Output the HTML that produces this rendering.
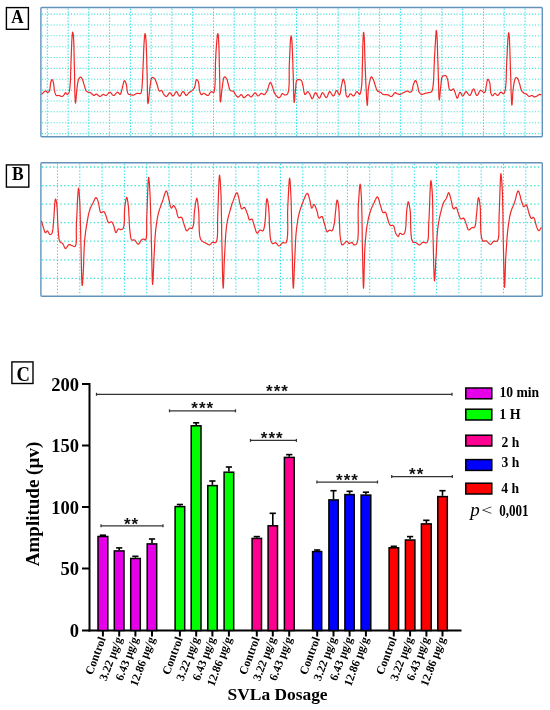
<!DOCTYPE html>
<html><head><meta charset="utf-8"><style>
html,body{margin:0;padding:0;background:#fff;width:550px;height:710px;overflow:hidden}
svg{display:block}
</style></head><body>
<svg width="550" height="710" viewBox="0 0 550 710">
<rect width="550" height="710" fill="#fff"/>
<!-- panel A -->
<rect x="6.4" y="7.6" width="22" height="21.7" fill="#fff" stroke="#000" stroke-width="1.4"/>
<text transform="translate(17.5,22.7) scale(0.92,1)" text-anchor="middle" font-size="18.5" font-weight="bold" font-family="Liberation Serif, Times New Roman, serif">A</text>
<g stroke="#45e0d2" stroke-width="1.1" stroke-dasharray="1.1 1.8"><line x1="41.9" y1="14.1" x2="541.3" y2="14.1"/><line x1="41.9" y1="25.0" x2="541.3" y2="25.0"/><line x1="41.9" y1="35.8" x2="541.3" y2="35.8"/><line x1="41.9" y1="46.7" x2="541.3" y2="46.7"/><line x1="41.9" y1="57.5" x2="541.3" y2="57.5"/><line x1="41.9" y1="68.4" x2="541.3" y2="68.4"/><line x1="41.9" y1="79.3" x2="541.3" y2="79.3"/><line x1="41.9" y1="90.1" x2="541.3" y2="90.1"/><line x1="41.9" y1="101.0" x2="541.3" y2="101.0"/><line x1="41.9" y1="111.8" x2="541.3" y2="111.8"/><line x1="41.9" y1="122.7" x2="541.3" y2="122.7"/><line x1="41.9" y1="133.6" x2="541.3" y2="133.6"/></g><g stroke="#20dfea" stroke-width="1" stroke-dasharray="1.4 1.6"><line x1="47.3" y1="8.5" x2="47.3" y2="135.8"/><line x1="68.1" y1="8.5" x2="68.1" y2="135.8"/><line x1="88.8" y1="8.5" x2="88.8" y2="135.8"/><line x1="109.6" y1="8.5" x2="109.6" y2="135.8"/><line x1="130.4" y1="8.5" x2="130.4" y2="135.8"/><line x1="151.1" y1="8.5" x2="151.1" y2="135.8"/><line x1="171.9" y1="8.5" x2="171.9" y2="135.8"/><line x1="192.7" y1="8.5" x2="192.7" y2="135.8"/><line x1="213.5" y1="8.5" x2="213.5" y2="135.8"/><line x1="234.2" y1="8.5" x2="234.2" y2="135.8"/><line x1="255.0" y1="8.5" x2="255.0" y2="135.8"/><line x1="275.8" y1="8.5" x2="275.8" y2="135.8"/><line x1="296.5" y1="8.5" x2="296.5" y2="135.8"/><line x1="317.3" y1="8.5" x2="317.3" y2="135.8"/><line x1="338.1" y1="8.5" x2="338.1" y2="135.8"/><line x1="358.9" y1="8.5" x2="358.9" y2="135.8"/><line x1="379.6" y1="8.5" x2="379.6" y2="135.8"/><line x1="400.4" y1="8.5" x2="400.4" y2="135.8"/><line x1="421.2" y1="8.5" x2="421.2" y2="135.8"/><line x1="441.9" y1="8.5" x2="441.9" y2="135.8"/><line x1="462.7" y1="8.5" x2="462.7" y2="135.8"/><line x1="483.5" y1="8.5" x2="483.5" y2="135.8"/><line x1="504.2" y1="8.5" x2="504.2" y2="135.8"/><line x1="525.0" y1="8.5" x2="525.0" y2="135.8"/></g>
<rect x="40.9" y="7.5" width="501.4" height="129.3" rx="1" fill="none" stroke="#6493ba" stroke-width="1.4"/>
<path d="M41.6,94.4 41.7,94.2 42.1,93.8 42.7,93.2 43.3,92.6 43.9,92.0 44.4,91.6 44.7,91.4 45.0,91.3 45.2,91.2 45.5,91.1 45.7,91.1 46.0,91.1 46.3,91.2 46.5,91.5 46.8,91.8 47.1,92.2 47.3,92.4 47.6,92.5 47.9,92.5 48.2,92.3 48.5,92.1 48.8,91.8 49.1,91.5 49.3,91.1 49.7,90.0 50.0,88.4 50.2,86.6 50.4,84.7 50.6,83.1 50.9,81.8 51.1,81.3 51.3,80.8 51.5,80.3 51.8,79.9 52.0,79.7 52.2,79.6 52.4,79.7 52.6,80.1 52.8,80.6 53.0,81.1 53.1,81.8 53.3,82.4 53.6,83.7 53.8,85.2 54.0,86.9 54.2,88.6 54.4,90.2 54.7,91.6 54.9,92.4 55.2,93.2 55.4,93.9 55.7,94.6 56.0,95.1 56.4,95.5 56.8,95.6 57.2,95.7 57.7,95.6 58.2,95.5 58.6,95.5 59.1,95.5 59.6,95.6 60.0,95.9 60.5,96.1 60.9,96.3 61.4,96.5 61.8,96.5 62.2,96.4 62.6,96.2 63.0,95.9 63.3,95.6 63.7,95.2 64.0,94.9 64.3,94.5 64.6,94.1 64.8,93.6 65.1,93.1 65.3,92.8 65.6,92.7 65.9,92.8 66.2,93.1 66.4,93.5 66.7,94.0 67.0,94.3 67.3,94.4 67.6,94.3 67.9,94.1 68.1,93.9 68.4,93.5 68.7,93.1 68.9,92.7 69.2,91.9 69.4,91.0 69.6,90.0 69.7,88.9 69.9,87.6 70.0,86.2 70.3,82.8 70.5,78.7 70.6,74.1 70.8,69.2 70.9,64.4 71.1,60.0 71.2,56.1 71.4,52.0 71.5,48.0 71.7,44.2 71.8,40.8 72.0,38.0 72.1,36.7 72.2,35.3 72.3,34.1 72.4,33.1 72.6,32.4 72.7,32.1 72.8,32.3 72.9,32.7 73.1,33.3 73.2,34.2 73.3,35.1 73.4,36.0 73.6,38.7 73.8,42.2 73.9,46.3 74.0,50.7 74.1,55.4 74.2,60.0 74.4,67.5 74.6,76.6 74.7,86.1 74.9,94.6 75.2,100.8 75.5,103.1 75.7,102.2 76.0,100.0 76.2,96.9 76.5,93.4 76.8,90.0 77.1,87.3 77.3,85.7 77.5,84.1 77.8,82.6 78.0,81.3 78.3,80.1 78.7,79.1 78.9,78.6 79.2,78.2 79.5,77.8 79.8,77.5 80.1,77.3 80.4,77.2 80.7,77.2 80.9,77.4 81.2,77.6 81.5,77.8 81.7,78.2 82.0,78.5 82.4,79.3 82.8,80.3 83.2,81.5 83.5,82.7 83.8,84.0 84.2,85.1 84.5,86.2 84.9,87.3 85.2,88.4 85.5,89.5 85.9,90.4 86.4,91.1 86.7,91.4 87.1,91.6 87.4,91.8 87.8,92.0 88.2,92.1 88.5,92.2 88.8,92.3 89.1,92.3 89.4,92.3 89.6,92.3 89.9,92.4 90.2,92.5 90.6,92.7 90.9,93.0 91.3,93.4 91.7,93.7 92.0,94.1 92.4,94.4 92.7,94.6 92.9,94.9 93.2,95.1 93.5,95.3 93.7,95.4 94.0,95.5 94.3,95.4 94.7,95.1 95.1,94.8 95.5,94.4 95.8,94.1 96.2,94.0 96.6,94.1 96.9,94.3 97.3,94.6 97.7,94.9 98.1,95.2 98.4,95.5 98.7,95.7 98.9,95.9 99.2,96.1 99.4,96.3 99.7,96.5 100.0,96.5 100.5,96.3 101.0,96.0 101.6,95.5 102.2,95.0 102.7,94.6 103.3,94.4 103.8,94.5 104.2,94.7 104.6,95.0 105.1,95.3 105.5,95.5 106.0,95.5 106.6,95.2 107.2,94.6 107.9,93.8 108.5,93.0 109.2,92.4 109.8,92.2 110.4,92.4 111.1,93.1 111.7,93.8 112.3,94.6 113.0,95.3 113.6,95.5 114.3,95.3 114.9,94.7 115.6,93.9 116.2,93.1 116.9,92.4 117.5,92.2 118.0,92.4 118.5,92.8 119.0,93.4 119.4,93.9 119.8,94.3 120.2,94.4 120.6,94.1 120.8,93.5 121.1,92.8 121.3,91.9 121.5,90.9 121.8,90.0 122.2,88.4 122.7,86.5 123.1,84.4 123.6,82.6 124.0,81.2 124.5,80.7 124.8,80.8 125.1,81.2 125.4,81.8 125.7,82.5 125.9,83.3 126.2,84.0 126.5,85.4 126.8,87.3 127.0,89.2 127.2,91.1 127.6,92.7 128.1,93.8 128.4,94.1 128.8,94.3 129.2,94.5 129.6,94.5 130.1,94.6 130.5,94.7 130.9,94.8 131.4,94.9 131.9,95.0 132.3,95.1 132.8,95.1 133.3,95.1 133.9,94.9 134.5,94.6 135.2,94.2 135.8,93.8 136.5,93.5 137.1,93.3 137.7,93.3 138.3,93.4 138.9,93.5 139.5,93.7 140.0,93.7 140.4,93.6 140.7,93.4 140.9,93.1 141.1,92.7 141.2,92.2 141.4,91.7 141.5,91.1 141.9,88.4 142.2,84.6 142.5,80.0 142.7,75.1 142.9,70.1 143.1,65.5 143.3,60.7 143.5,55.5 143.7,50.3 143.9,45.5 144.2,41.2 144.4,38.0 144.5,36.9 144.6,35.9 144.7,35.0 144.9,34.3 145.0,33.8 145.1,33.6 145.2,33.8 145.3,34.3 145.5,35.0 145.6,35.9 145.7,36.9 145.8,38.0 146.1,41.6 146.3,46.5 146.5,52.1 146.7,58.2 146.8,64.3 147.0,70.0 147.2,76.3 147.3,83.6 147.4,90.9 147.5,97.3 147.7,101.9 148.0,103.6 148.3,102.6 148.6,99.9 149.0,96.2 149.4,92.0 149.8,88.1 150.2,85.1 150.5,83.5 150.7,81.9 150.9,80.3 151.2,79.0 151.6,78.0 152.1,77.5 152.5,77.4 152.9,77.5 153.3,77.6 153.7,77.9 154.1,78.2 154.5,78.5 155.0,79.1 155.3,79.8 155.7,80.7 156.0,81.6 156.3,82.6 156.7,83.5 157.1,84.8 157.6,86.3 158.0,87.9 158.4,89.4 158.9,90.5 159.5,91.1 159.8,91.1 160.2,91.0 160.6,90.8 160.9,90.6 161.3,90.5 161.6,90.5 162.0,90.8 162.4,91.4 162.7,92.2 163.0,93.0 163.4,93.8 163.8,94.4 164.2,94.9 164.6,95.4 165.1,95.8 165.6,96.2 166.0,96.4 166.5,96.5 167.0,96.2 167.6,95.5 168.1,94.6 168.7,93.7 169.2,93.0 169.8,92.7 170.3,92.9 170.9,93.6 171.5,94.4 172.0,95.2 172.6,95.8 173.1,96.0 173.7,95.6 174.2,94.8 174.8,93.8 175.3,92.7 175.9,91.9 176.4,91.6 176.9,91.9 177.5,92.8 178.0,93.9 178.5,95.0 179.1,95.9 179.6,96.2 180.2,95.8 180.8,95.0 181.3,93.8 181.9,92.7 182.5,91.8 183.1,91.4 183.6,91.7 184.1,92.4 184.7,93.4 185.2,94.4 185.7,95.2 186.2,95.5 186.6,95.4 187.1,95.0 187.5,94.4 188.0,93.8 188.4,93.2 188.9,92.7 189.4,92.3 190.0,91.9 190.6,91.6 191.2,91.3 191.7,90.9 192.2,90.5 192.6,90.1 193.0,89.7 193.4,89.3 193.7,88.9 194.1,88.4 194.4,87.8 194.8,86.5 195.2,84.9 195.5,83.1 195.8,81.4 196.1,80.2 196.5,79.6 196.8,79.6 197.1,79.8 197.4,80.1 197.7,80.4 197.9,80.8 198.2,81.3 198.6,82.6 198.9,84.3 199.1,86.3 199.2,88.3 199.5,90.1 199.8,91.6 200.0,92.3 200.3,93.0 200.6,93.6 200.8,94.1 201.2,94.5 201.5,94.7 201.8,94.7 202.2,94.4 202.5,94.1 202.9,93.7 203.2,93.4 203.6,93.3 204.0,93.3 204.3,93.5 204.7,93.7 205.1,93.9 205.4,94.2 205.8,94.4 206.2,94.6 206.5,94.9 206.9,95.1 207.3,95.4 207.7,95.5 208.0,95.5 208.4,95.3 208.8,94.8 209.1,94.3 209.5,93.7 209.8,93.1 210.2,92.7 210.5,92.4 210.7,92.2 211.0,92.0 211.3,91.8 211.5,91.6 211.8,91.6 212.1,91.7 212.4,91.9 212.7,92.2 213.0,92.5 213.3,92.7 213.5,92.7 213.8,92.4 214.1,91.7 214.3,90.8 214.5,89.8 214.6,88.6 214.8,87.3 215.1,83.9 215.2,79.7 215.3,74.8 215.4,69.7 215.4,64.6 215.6,60.0 215.8,56.0 216.0,51.9 216.3,47.8 216.6,44.0 216.8,40.7 217.1,38.0 217.2,37.0 217.3,36.0 217.4,35.0 217.6,34.3 217.7,33.8 217.8,33.6 217.9,33.8 218.0,34.3 218.2,35.0 218.3,35.9 218.4,36.9 218.5,38.0 218.7,41.6 218.9,46.5 219.1,52.2 219.2,58.2 219.3,64.3 219.5,70.0 219.6,76.1 219.8,83.0 219.9,90.0 220.0,96.1 220.2,100.4 220.5,102.0 220.7,101.2 221.0,99.2 221.2,96.3 221.5,93.1 221.9,89.9 222.2,87.3 222.5,85.2 222.8,83.0 223.1,80.8 223.4,79.0 223.9,77.6 224.4,76.9 224.7,76.9 225.1,77.0 225.5,77.3 225.8,77.7 226.2,78.1 226.5,78.5 226.9,79.2 227.2,80.0 227.4,81.0 227.7,82.0 227.9,83.0 228.2,84.0 228.5,85.1 228.8,86.4 229.1,87.6 229.4,88.8 229.9,89.8 230.4,90.5 230.9,90.8 231.4,90.9 232.0,91.0 232.6,91.1 233.1,91.2 233.6,91.4 234.0,91.8 234.3,92.3 234.5,92.8 234.7,93.4 235.0,93.9 235.3,94.4 235.7,94.9 236.1,95.5 236.6,96.1 237.0,96.6 237.5,96.9 238.0,97.1 238.5,96.9 239.1,96.5 239.7,95.9 240.2,95.3 240.8,94.8 241.3,94.7 241.8,94.9 242.2,95.5 242.6,96.1 243.1,96.8 243.5,97.4 244.0,97.6 244.6,97.4 245.3,96.9 246.0,96.2 246.7,95.5 247.4,94.9 248.1,94.7 248.6,94.9 249.1,95.3 249.6,95.8 250.1,96.4 250.6,96.8 251.1,96.9 251.8,96.6 252.4,95.8 253.1,94.9 253.8,93.9 254.5,93.2 255.1,92.9 255.6,93.1 256.1,93.7 256.6,94.4 257.0,95.2 257.5,95.7 258.0,96.0 258.6,95.8 259.1,95.4 259.7,94.7 260.3,94.1 260.9,93.5 261.5,93.3 262.0,93.4 262.4,93.7 262.9,94.0 263.3,94.4 263.8,94.7 264.2,94.7 264.7,94.5 265.2,94.0 265.6,93.4 266.0,92.7 266.5,91.9 266.9,91.1 267.5,89.7 268.1,87.9 268.7,85.9 269.3,84.2 269.9,82.9 270.4,82.4 270.8,82.6 271.1,83.2 271.4,84.0 271.8,84.9 272.1,85.8 272.4,86.7 272.7,87.7 273.0,88.7 273.3,89.8 273.6,90.8 273.9,91.8 274.3,92.7 274.7,93.3 275.0,94.0 275.5,94.5 275.9,95.1 276.3,95.5 276.7,96.0 277.0,96.3 277.3,96.7 277.5,97.0 277.8,97.3 278.1,97.5 278.4,97.6 278.7,97.6 278.9,97.6 279.2,97.5 279.5,97.4 279.7,97.3 280.0,97.1 280.4,96.6 280.8,96.0 281.1,95.2 281.5,94.5 281.9,93.9 282.3,93.6 282.7,93.6 283.1,93.9 283.6,94.2 284.1,94.6 284.5,94.9 285.0,95.0 285.5,95.0 285.9,94.9 286.4,94.7 286.9,94.5 287.3,94.1 287.7,93.6 288.6,90.9 289.0,86.7 289.2,81.5 289.2,75.7 289.2,70.1 289.3,65.0 289.5,60.5 289.7,55.8 289.9,51.1 290.1,46.7 290.3,42.9 290.5,40.0 290.6,39.0 290.7,38.1 290.8,37.2 290.9,36.5 291.0,36.1 291.1,35.9 291.2,36.1 291.3,36.5 291.5,37.2 291.6,38.0 291.7,39.0 291.8,40.0 292.1,43.9 292.3,49.3 292.6,55.6 292.8,62.4 293.0,69.0 293.2,75.0 293.4,80.4 293.5,86.4 293.6,92.4 293.8,97.5 294.0,101.1 294.2,102.5 294.4,101.8 294.6,100.1 294.8,97.7 295.0,95.0 295.3,92.3 295.5,90.0 295.7,88.2 295.8,86.2 295.9,84.3 296.1,82.6 296.4,81.1 296.9,80.2 297.2,79.9 297.5,79.8 297.9,79.7 298.3,79.6 298.6,79.6 299.0,79.6 299.4,79.6 299.8,79.7 300.2,79.8 300.6,80.0 301.0,80.2 301.3,80.5 301.7,81.1 302.0,81.9 302.3,82.9 302.5,83.9 302.7,85.0 303.0,86.0 303.3,87.5 303.6,89.3 303.8,91.1 304.2,92.7 304.5,93.9 305.0,94.5 305.4,94.4 305.9,93.8 306.4,93.1 306.9,92.4 307.4,91.8 307.8,91.6 308.1,91.7 308.4,91.9 308.7,92.2 308.9,92.6 309.2,93.1 309.5,93.5 309.9,94.3 310.4,95.4 310.8,96.6 311.3,97.6 311.7,98.4 312.2,98.7 312.7,98.3 313.3,97.2 313.8,95.7 314.3,94.3 314.9,93.2 315.5,92.7 316.1,93.1 316.7,94.1 317.4,95.4 318.1,96.8 318.7,97.8 319.3,98.2 319.9,97.8 320.4,96.8 320.9,95.5 321.4,94.2 321.9,93.1 322.5,92.7 323.1,93.0 323.8,94.0 324.5,95.2 325.1,96.4 325.8,97.3 326.4,97.6 327.0,97.1 327.5,96.0 328.0,94.6 328.5,93.2 329.0,92.1 329.6,91.6 330.2,91.9 330.8,92.7 331.5,93.8 332.2,94.9 332.8,95.7 333.4,96.0 334.0,95.6 334.6,94.5 335.1,93.2 335.6,91.9 336.2,90.9 336.7,90.5 337.2,90.8 337.7,91.7 338.1,92.7 338.6,93.8 339.0,94.6 339.4,94.9 339.9,94.3 340.3,92.9 340.6,91.0 340.9,88.9 341.3,86.8 341.6,85.1 341.9,83.9 342.2,82.5 342.4,81.3 342.7,80.2 343.0,79.4 343.3,79.1 343.6,79.3 343.8,79.9 344.1,80.8 344.4,81.8 344.7,82.9 344.9,84.0 345.2,85.8 345.4,88.1 345.6,90.5 345.8,92.8 346.1,94.7 346.5,96.0 346.7,96.3 346.9,96.6 347.2,96.8 347.4,97.0 347.7,97.1 347.9,97.1 348.3,96.8 348.7,96.2 349.1,95.5 349.5,94.7 349.9,94.1 350.4,93.8 350.9,93.9 351.4,94.3 352.0,94.9 352.5,95.5 353.1,95.9 353.6,96.0 354.2,95.6 354.7,94.8 355.3,93.8 355.8,92.7 356.4,91.9 356.9,91.6 357.4,91.8 357.8,92.3 358.3,93.0 358.8,93.7 359.2,94.2 359.6,94.4 360.0,94.1 360.3,93.3 360.6,92.3 360.9,91.1 361.1,89.8 361.3,88.4 361.7,85.5 361.9,82.0 362.1,78.0 362.2,73.8 362.3,69.6 362.4,65.5 362.5,60.8 362.7,55.7 362.7,50.6 362.8,45.7 363.0,41.4 363.1,38.0 363.2,36.7 363.3,35.4 363.3,34.2 363.4,33.3 363.5,32.6 363.6,32.4 363.7,32.6 363.8,33.1 363.9,33.9 364.0,34.8 364.1,35.9 364.2,37.0 364.4,40.7 364.6,45.7 364.7,51.5 364.9,57.8 365.1,64.1 365.3,70.0 365.6,76.6 365.9,84.3 366.3,92.0 366.6,98.7 367.0,103.5 367.3,105.3 367.5,104.3 367.6,101.8 367.8,98.2 368.0,94.3 368.2,90.4 368.6,87.3 369.0,85.2 369.4,82.9 369.9,80.7 370.3,78.8 370.9,77.5 371.4,76.9 371.7,77.0 372.0,77.3 372.4,77.8 372.7,78.4 373.0,79.0 373.3,79.6 373.7,80.5 374.1,81.6 374.4,82.8 374.8,84.0 375.1,85.1 375.5,86.2 375.8,87.1 376.1,88.0 376.4,88.9 376.8,89.8 377.1,90.5 377.6,91.1 378.0,91.4 378.5,91.6 379.0,91.7 379.4,91.8 379.9,92.0 380.4,92.2 380.9,92.5 381.3,92.9 381.7,93.4 382.2,93.8 382.6,94.1 383.1,94.4 383.5,94.5 384.0,94.6 384.4,94.7 384.9,94.7 385.4,94.7 385.8,94.7 386.2,94.7 386.5,94.7 386.9,94.7 387.3,94.8 387.6,94.8 388.0,94.9 388.5,95.1 389.1,95.5 389.6,95.9 390.2,96.2 390.8,96.5 391.3,96.5 392.0,96.2 392.6,95.5 393.3,94.6 393.9,93.7 394.5,93.0 395.1,92.7 395.5,92.7 395.8,92.9 396.2,93.1 396.6,93.4 396.9,93.6 397.3,93.8 397.7,94.0 398.2,94.1 398.6,94.3 399.1,94.4 399.5,94.4 400.0,94.4 400.5,94.3 401.1,94.0 401.6,93.7 402.2,93.3 402.7,93.0 403.3,92.7 404.0,92.4 404.7,92.0 405.5,91.7 406.3,91.4 407.0,91.2 407.6,91.1 408.0,91.2 408.4,91.4 408.8,91.7 409.1,91.9 409.5,92.1 409.8,92.2 410.1,92.2 410.4,92.2 410.7,92.1 411.0,92.0 411.2,91.8 411.5,91.6 412.0,90.8 412.3,89.6 412.6,88.1 412.9,86.6 413.2,85.2 413.6,84.0 413.9,83.2 414.2,82.5 414.5,81.7 414.9,81.1 415.2,80.7 415.5,80.5 415.8,80.7 416.2,81.3 416.5,82.2 416.9,83.1 417.2,84.2 417.5,85.1 417.8,86.2 418.0,87.5 418.2,88.8 418.4,90.1 418.7,91.3 419.1,92.2 419.5,92.7 419.9,93.2 420.3,93.6 420.8,94.0 421.3,94.3 421.8,94.4 422.3,94.4 422.9,94.3 423.4,94.0 424.0,93.8 424.5,93.5 425.1,93.3 425.6,93.2 426.2,93.1 426.8,93.0 427.3,92.9 427.9,92.8 428.4,92.7 429.0,92.6 429.5,92.5 430.1,92.3 430.7,92.2 431.2,91.9 431.6,91.6 432.0,91.1 432.2,90.6 432.4,89.9 432.6,89.1 432.7,88.3 432.9,87.3 433.3,84.1 433.6,79.9 433.8,75.0 434.0,69.8 434.2,64.7 434.4,60.0 434.6,55.7 434.9,51.3 435.1,46.8 435.4,42.7 435.6,39.0 435.8,36.0 435.9,34.7 436.0,33.5 436.0,32.3 436.1,31.4 436.2,30.7 436.3,30.5 436.4,30.7 436.5,31.2 436.6,31.9 436.7,32.9 436.8,33.9 436.9,35.0 437.1,38.4 437.3,43.0 437.5,48.2 437.6,53.9 437.8,59.6 438.0,65.0 438.2,71.5 438.4,79.0 438.6,86.6 438.8,93.2 439.0,98.0 439.3,99.8 439.5,99.0 439.8,96.9 440.0,94.0 440.3,90.8 440.6,87.7 440.9,85.1 441.1,83.4 441.2,81.7 441.4,80.0 441.6,78.5 442.0,77.3 442.5,76.4 443.0,76.0 443.5,75.8 444.1,75.6 444.8,75.6 445.3,75.6 445.8,75.8 446.2,76.1 446.5,76.5 446.8,77.1 447.0,77.7 447.3,78.4 447.5,79.1 447.9,80.6 448.2,82.5 448.4,84.6 448.7,86.6 449.1,88.4 449.6,89.5 449.9,89.8 450.1,90.1 450.4,90.3 450.7,90.4 451.0,90.5 451.3,90.5 451.6,90.4 451.9,90.0 452.3,89.6 452.6,89.3 452.9,89.0 453.2,88.9 453.6,89.1 453.9,89.6 454.2,90.3 454.5,91.1 454.8,91.9 455.1,92.7 455.5,93.7 455.8,94.9 456.2,96.1 456.5,97.1 456.9,97.9 457.3,98.2 457.7,97.8 458.2,96.7 458.6,95.2 459.0,93.8 459.5,92.7 460.0,92.2 460.4,92.5 460.9,93.1 461.3,94.1 461.8,95.0 462.2,95.7 462.7,96.0 463.2,95.7 463.8,94.9 464.3,93.8 464.8,92.8 465.4,92.0 466.0,91.6 466.6,91.9 467.2,92.6 467.9,93.6 468.6,94.5 469.2,95.3 469.8,95.5 470.5,94.9 471.1,93.7 471.8,92.1 472.4,90.6 473.0,89.4 473.6,88.9 474.2,89.4 474.7,90.6 475.2,92.2 475.8,93.8 476.3,95.0 476.9,95.5 477.5,95.2 478.1,94.3 478.7,93.0 479.3,91.8 480.0,90.8 480.7,90.3 481.3,90.4 482.0,90.9 482.7,91.6 483.4,92.2 484.0,92.6 484.5,92.7 485.0,92.2 485.3,91.3 485.6,90.1 485.8,88.8 486.0,87.4 486.2,86.2 486.5,84.9 486.7,83.5 486.9,82.0 487.2,80.7 487.5,79.8 487.8,79.4 488.1,79.5 488.4,79.7 488.7,80.1 489.0,80.6 489.2,81.2 489.5,81.8 489.9,83.4 490.1,85.5 490.3,87.9 490.5,90.2 490.7,92.3 491.1,93.8 491.3,94.3 491.6,94.8 491.8,95.2 492.1,95.5 492.4,95.7 492.7,95.8 493.0,95.6 493.4,95.2 493.7,94.6 494.1,94.0 494.5,93.5 494.9,93.3 495.3,93.4 495.8,93.9 496.2,94.4 496.7,94.9 497.1,95.3 497.6,95.5 498.1,95.2 498.7,94.7 499.2,93.9 499.8,93.1 500.3,92.5 500.9,92.2 501.4,92.3 501.8,92.6 502.3,93.0 502.8,93.5 503.2,93.8 503.6,93.8 504.0,93.5 504.3,93.0 504.6,92.3 504.8,91.5 505.1,90.5 505.3,89.5 505.7,86.7 506.0,83.0 506.2,78.9 506.3,74.4 506.4,69.8 506.6,65.5 506.8,60.6 507.1,55.3 507.3,49.8 507.6,44.7 507.8,40.3 508.1,37.0 508.2,36.0 508.3,35.0 508.4,34.1 508.5,33.4 508.6,32.9 508.7,32.7 508.8,32.9 508.9,33.3 509.0,34.1 509.1,34.9 509.2,35.9 509.3,37.0 509.5,40.7 509.7,45.7 509.9,51.5 510.1,57.8 510.3,64.1 510.5,70.0 510.7,76.6 510.9,84.3 511.1,91.9 511.4,98.6 511.6,103.4 511.9,105.2 512.1,104.1 512.3,101.2 512.6,97.2 512.8,92.8 513.2,88.7 513.6,85.5 513.9,83.8 514.2,82.1 514.6,80.6 515.0,79.2 515.4,78.2 515.9,77.7 516.2,77.6 516.5,77.7 516.8,77.8 517.1,78.1 517.4,78.3 517.7,78.6 518.1,79.2 518.4,79.9 518.7,80.8 518.9,81.7 519.2,82.7 519.5,83.6 519.9,84.8 520.2,86.1 520.5,87.4 520.9,88.8 521.3,89.9 521.8,90.9 522.1,91.4 522.5,91.9 522.9,92.3 523.3,92.6 523.7,92.9 524.1,93.2 524.5,93.4 524.8,93.5 525.2,93.7 525.6,93.8 526.0,93.9 526.4,94.1 526.8,94.4 527.3,94.9 527.7,95.4 528.2,95.8 528.6,96.2 529.1,96.4 529.5,96.4 530.0,96.2 530.5,96.0 530.9,95.7 531.4,95.5 531.8,95.5 532.2,95.6 532.6,95.8 533.0,96.1 533.3,96.4 533.7,96.7 534.1,96.8 534.5,96.8 534.9,96.8 535.2,96.8 535.6,96.7 536.0,96.5 536.4,96.4 536.9,96.1 537.4,95.7 538.0,95.3 538.5,94.9 539.0,94.6 539.5,94.4 539.9,94.4 540.3,94.5 540.7,94.7 541.1,94.8 541.3,94.9 541.4,95.0" fill="none" stroke="#f02828" stroke-width="1.2" stroke-linejoin="round"/>
<!-- panel B -->
<rect x="6.4" y="164.9" width="22.4" height="22.2" fill="#fff" stroke="#000" stroke-width="1.4"/>
<text transform="translate(17.8,180.3) scale(0.92,1)" text-anchor="middle" font-size="19" font-weight="bold" font-family="Liberation Serif, Times New Roman, serif">B</text>
<g stroke="#45e0d2" stroke-width="1.3" stroke-dasharray="1.5 2.2"><line x1="41.9" y1="167.0" x2="541.3" y2="167.0"/><line x1="41.9" y1="185.6" x2="541.3" y2="185.6"/><line x1="41.9" y1="204.1" x2="541.3" y2="204.1"/><line x1="41.9" y1="222.7" x2="541.3" y2="222.7"/><line x1="41.9" y1="241.2" x2="541.3" y2="241.2"/><line x1="41.9" y1="259.8" x2="541.3" y2="259.8"/><line x1="41.9" y1="278.3" x2="541.3" y2="278.3"/></g><g stroke="#20dfea" stroke-width="1" stroke-dasharray="1.4 1.8"><line x1="57.5" y1="163.8" x2="57.5" y2="295.3"/><line x1="79.8" y1="163.8" x2="79.8" y2="295.3"/><line x1="102.1" y1="163.8" x2="102.1" y2="295.3"/><line x1="124.4" y1="163.8" x2="124.4" y2="295.3"/><line x1="146.7" y1="163.8" x2="146.7" y2="295.3"/><line x1="169.0" y1="163.8" x2="169.0" y2="295.3"/><line x1="191.3" y1="163.8" x2="191.3" y2="295.3"/><line x1="213.6" y1="163.8" x2="213.6" y2="295.3"/><line x1="235.9" y1="163.8" x2="235.9" y2="295.3"/><line x1="258.2" y1="163.8" x2="258.2" y2="295.3"/><line x1="280.5" y1="163.8" x2="280.5" y2="295.3"/><line x1="302.8" y1="163.8" x2="302.8" y2="295.3"/><line x1="325.1" y1="163.8" x2="325.1" y2="295.3"/><line x1="347.4" y1="163.8" x2="347.4" y2="295.3"/><line x1="369.7" y1="163.8" x2="369.7" y2="295.3"/><line x1="392.0" y1="163.8" x2="392.0" y2="295.3"/><line x1="414.3" y1="163.8" x2="414.3" y2="295.3"/><line x1="436.6" y1="163.8" x2="436.6" y2="295.3"/><line x1="458.9" y1="163.8" x2="458.9" y2="295.3"/><line x1="481.2" y1="163.8" x2="481.2" y2="295.3"/><line x1="503.5" y1="163.8" x2="503.5" y2="295.3"/><line x1="525.8" y1="163.8" x2="525.8" y2="295.3"/></g>
<rect x="40.9" y="162.8" width="501.4" height="133.5" rx="1" fill="none" stroke="#6493ba" stroke-width="1.4"/>
<path d="M41.5,220.9 41.6,221.3 41.9,222.3 42.3,223.8 42.7,225.4 43.2,226.9 43.6,228.2 43.9,229.1 44.2,230.1 44.5,231.0 44.8,231.8 45.1,232.4 45.5,232.7 45.8,232.6 46.1,232.3 46.4,231.8 46.7,231.4 47.0,231.0 47.3,230.9 47.7,231.2 48.2,231.8 48.6,232.6 49.1,233.5 49.5,234.2 50.0,234.5 50.3,234.5 50.6,234.5 50.9,234.4 51.2,234.2 51.5,233.9 51.8,233.6 52.3,232.4 52.7,230.6 53.0,228.4 53.2,225.9 53.4,223.4 53.6,220.9 53.9,217.1 54.2,212.4 54.5,207.6 54.8,203.3 55.1,200.2 55.5,199.0 55.7,199.2 55.9,199.7 56.1,200.5 56.3,201.4 56.5,202.5 56.7,203.6 57.0,206.9 57.3,211.2 57.5,216.1 57.7,221.2 57.9,226.0 58.2,230.0 58.4,232.4 58.6,234.7 58.8,236.9 59.0,238.9 59.4,240.5 60.0,241.8 60.4,242.3 60.8,242.6 61.3,242.8 61.8,243.0 62.3,243.2 62.7,243.6 63.2,244.4 63.7,245.4 64.1,246.4 64.5,247.4 65.0,248.2 65.5,248.5 66.0,248.3 66.6,247.6 67.2,246.7 67.9,245.7 68.5,244.9 69.1,244.5 69.5,244.5 70.0,244.6 70.4,244.8 70.9,245.1 71.3,245.3 71.8,245.5 72.3,245.7 72.9,246.0 73.5,246.3 74.1,246.5 74.6,246.6 75.1,246.4 75.9,244.8 76.3,241.9 76.4,238.0 76.3,233.5 76.3,228.9 76.4,224.5 76.7,218.1 77.1,210.4 77.4,202.4 77.8,195.3 78.2,190.2 78.5,188.2 78.7,188.7 78.9,189.9 79.1,191.8 79.3,194.1 79.4,196.5 79.6,199.0 79.9,204.6 80.1,211.4 80.3,219.0 80.5,227.1 80.7,235.1 80.9,242.7 81.1,250.8 81.3,260.2 81.5,269.5 81.7,277.6 81.9,283.3 82.2,285.5 82.4,284.9 82.6,283.2 82.7,280.7 82.9,277.8 83.1,274.7 83.3,271.8 83.5,267.5 83.7,262.6 83.8,257.4 84.0,252.2 84.2,247.2 84.5,242.7 84.7,239.7 85.0,236.9 85.3,234.3 85.6,231.7 86.0,229.1 86.4,226.4 86.9,223.4 87.4,220.3 88.0,217.1 88.6,214.1 89.3,211.3 90.0,209.0 90.4,207.9 90.9,206.9 91.3,206.1 91.8,205.3 92.2,204.5 92.7,203.6 93.2,202.5 93.8,201.2 94.4,199.9 94.9,198.7 95.5,197.9 96.0,197.6 96.4,197.8 96.8,198.3 97.2,199.0 97.5,199.9 97.9,200.9 98.2,201.8 98.7,203.5 99.0,205.7 99.4,208.0 99.8,210.2 100.3,211.8 100.9,212.7 101.3,212.7 101.8,212.5 102.3,212.2 102.7,211.8 103.2,211.5 103.6,211.5 104.0,211.7 104.3,212.1 104.6,212.6 104.9,213.2 105.2,213.8 105.5,214.5 106.0,215.8 106.5,217.4 107.0,219.1 107.5,220.7 108.0,222.0 108.7,222.7 109.1,222.7 109.6,222.6 110.1,222.3 110.6,222.0 111.1,221.8 111.5,221.8 111.9,222.1 112.3,222.6 112.7,223.2 113.0,224.0 113.3,224.7 113.6,225.5 114.0,226.7 114.4,228.2 114.8,229.8 115.2,231.2 115.6,232.3 116.0,232.7 116.3,232.5 116.7,231.9 117.0,231.0 117.4,230.2 117.8,229.4 118.2,229.0 118.6,228.9 119.0,229.0 119.5,229.2 120.0,229.4 120.5,229.6 120.9,229.6 121.3,229.5 121.8,229.4 122.2,229.2 122.6,229.0 123.0,228.6 123.3,228.2 123.9,226.2 124.3,223.1 124.4,219.3 124.4,215.3 124.5,211.5 124.7,208.2 125.0,205.9 125.3,203.5 125.7,201.2 126.0,199.2 126.4,197.8 126.7,197.3 127.0,197.6 127.2,198.5 127.5,199.7 127.7,201.2 128.0,202.9 128.2,204.5 128.6,208.2 128.8,212.9 129.1,218.1 129.3,223.2 129.6,228.0 130.0,231.8 130.2,233.6 130.4,235.3 130.6,236.9 130.9,238.2 131.3,239.3 131.8,240.0 132.2,240.2 132.6,240.2 133.1,240.1 133.6,239.9 134.0,239.9 134.5,240.0 135.1,240.5 135.8,241.4 136.4,242.3 137.1,243.3 137.7,243.9 138.3,244.2 138.9,243.9 139.4,243.3 139.9,242.4 140.4,241.5 140.9,240.6 141.4,240.0 141.7,239.7 142.0,239.5 142.3,239.3 142.6,239.2 142.9,239.0 143.2,239.0 143.6,239.1 144.0,239.3 144.4,239.6 144.8,239.9 145.2,240.1 145.5,240.0 146.2,238.4 146.6,235.1 146.7,230.7 146.7,225.6 146.7,220.4 146.8,215.5 147.1,208.7 147.4,200.6 147.7,192.2 148.0,184.7 148.3,179.3 148.6,177.3 148.8,177.9 149.0,179.7 149.3,182.2 149.5,185.2 149.7,188.5 149.9,191.8 150.2,198.5 150.5,206.7 150.7,215.6 151.0,225.0 151.2,234.1 151.4,242.7 151.6,250.9 151.8,260.0 152.0,269.1 152.2,276.9 152.4,282.4 152.6,284.5 152.8,283.0 153.1,279.1 153.3,273.6 153.6,267.3 153.8,261.0 154.1,255.5 154.4,250.8 154.6,246.0 154.9,241.3 155.1,236.7 155.5,232.3 155.9,228.2 156.3,225.3 156.6,222.6 157.1,220.0 157.5,217.5 158.0,215.1 158.6,212.7 159.1,210.8 159.7,208.9 160.4,207.1 161.0,205.3 161.7,203.6 162.3,201.8 163.0,199.7 163.7,197.3 164.4,195.0 165.1,192.9 165.7,191.4 166.3,190.9 166.7,191.3 167.1,192.2 167.5,193.6 167.9,195.1 168.2,196.7 168.6,198.2 169.0,200.0 169.5,202.1 169.9,204.3 170.4,206.2 170.9,207.6 171.4,208.2 171.7,208.0 172.1,207.6 172.4,206.9 172.8,206.2 173.1,205.7 173.5,205.5 173.9,205.7 174.3,206.1 174.7,206.7 175.1,207.4 175.5,208.2 175.9,209.0 176.4,210.3 176.8,212.0 177.1,213.8 177.5,215.4 178.0,216.8 178.6,217.6 179.0,217.7 179.5,217.6 180.0,217.5 180.5,217.3 181.0,217.2 181.4,217.3 182.0,218.0 182.5,219.0 182.9,220.3 183.3,221.8 183.7,223.2 184.1,224.5 184.5,225.7 185.0,227.1 185.4,228.4 185.8,229.6 186.3,230.5 186.8,230.9 187.2,230.8 187.6,230.4 188.1,229.8 188.5,229.1 189.0,228.6 189.5,228.2 190.0,228.1 190.4,228.2 190.9,228.3 191.4,228.4 191.9,228.4 192.3,228.2 193.1,226.6 193.6,223.9 193.9,220.5 194.1,216.7 194.3,213.1 194.6,210.0 195.0,207.6 195.3,205.0 195.7,202.5 196.1,200.3 196.5,198.8 196.8,198.2 197.1,198.7 197.4,200.2 197.8,202.3 198.0,204.8 198.3,207.5 198.6,210.0 198.9,214.4 199.0,219.9 199.1,225.6 199.3,231.2 199.7,235.8 200.5,239.0 200.9,239.7 201.3,240.3 201.7,240.7 202.2,241.1 202.7,241.4 203.2,241.8 203.8,242.2 204.4,242.5 205.0,242.8 205.6,243.1 206.2,243.3 206.8,243.6 207.3,243.9 207.7,244.2 208.2,244.5 208.6,244.7 209.1,244.9 209.5,244.9 210.0,244.7 210.4,244.3 210.9,243.8 211.3,243.2 211.8,242.7 212.3,242.4 212.9,242.3 213.5,242.4 214.1,242.6 214.8,242.7 215.4,242.7 215.9,242.4 216.9,240.3 217.4,236.6 217.6,231.8 217.6,226.3 217.6,220.8 217.7,215.5 218.0,208.3 218.3,199.7 218.6,190.8 218.9,182.9 219.2,177.3 219.5,175.1 219.7,175.7 219.9,177.5 220.2,180.1 220.4,183.2 220.6,186.6 220.8,190.0 221.1,197.0 221.3,205.3 221.4,214.6 221.6,224.2 221.7,233.8 221.9,242.7 222.1,251.5 222.3,261.5 222.5,271.3 222.7,279.9 223.0,285.9 223.2,288.2 223.4,286.6 223.6,282.5 223.8,276.7 224.0,270.0 224.2,263.2 224.5,257.3 224.8,251.7 225.1,246.0 225.4,240.2 225.7,234.5 226.2,229.3 226.8,224.5 227.3,221.5 227.9,218.7 228.5,216.1 229.2,213.6 229.9,211.3 230.5,209.0 231.0,207.3 231.5,205.8 231.9,204.3 232.4,202.8 233.0,201.4 233.5,200.0 234.0,198.6 234.6,196.9 235.2,195.3 235.8,194.0 236.4,193.0 236.9,192.7 237.5,193.3 238.0,194.9 238.6,197.1 239.1,199.5 239.5,201.8 240.0,203.6 240.3,204.7 240.6,205.9 240.8,207.0 241.1,207.9 241.4,208.6 241.8,209.0 242.2,208.9 242.5,208.6 243.0,208.2 243.4,207.7 243.8,207.4 244.2,207.3 244.8,207.7 245.3,208.6 245.8,209.8 246.4,211.1 246.8,212.4 247.3,213.6 247.7,214.8 248.1,216.1 248.4,217.4 248.7,218.6 249.1,219.5 249.6,220.0 249.9,220.0 250.3,219.8 250.7,219.5 251.1,219.2 251.5,219.0 251.8,219.0 252.3,219.6 252.8,220.6 253.2,222.0 253.6,223.5 254.1,225.0 254.5,226.4 254.9,227.7 255.4,229.2 255.8,230.7 256.3,232.0 256.8,232.9 257.3,233.3 257.7,233.1 258.1,232.6 258.6,231.8 259.0,231.0 259.5,230.4 260.0,230.0 260.4,230.0 260.9,230.2 261.4,230.5 261.9,230.8 262.3,230.9 262.7,230.9 263.1,230.6 263.5,230.0 263.8,229.3 264.0,228.4 264.2,227.5 264.5,226.4 265.0,222.5 265.5,216.9 265.8,210.6 266.1,204.7 266.5,200.4 266.9,198.7 267.2,199.0 267.4,199.9 267.7,201.2 268.0,202.8 268.2,204.6 268.5,206.4 268.9,211.2 269.2,217.5 269.4,224.6 269.8,231.4 270.2,237.1 270.9,240.9 271.2,241.6 271.4,242.2 271.7,242.7 272.0,243.1 272.3,243.4 272.7,243.6 273.1,243.6 273.6,243.4 274.0,243.2 274.5,242.9 275.0,242.7 275.5,242.7 276.1,243.0 276.7,243.7 277.3,244.4 277.9,245.2 278.5,245.8 279.1,246.0 279.7,245.8 280.3,245.3 280.9,244.5 281.5,243.8 282.1,243.1 282.7,242.7 283.2,242.6 283.8,242.7 284.4,242.9 285.0,243.0 285.5,243.0 286.0,242.7 287.1,239.8 287.6,234.6 287.8,227.7 287.7,220.2 287.6,212.8 287.8,206.4 288.1,200.8 288.4,194.6 288.7,188.6 289.0,183.3 289.3,179.6 289.6,178.2 289.8,179.0 290.1,181.0 290.3,184.1 290.5,187.7 290.7,191.6 290.9,195.5 291.2,203.2 291.4,212.3 291.6,222.4 291.8,232.7 292.0,242.8 292.2,251.8 292.4,259.2 292.5,267.2 292.7,275.0 292.9,281.8 293.1,286.4 293.3,288.2 293.5,287.0 293.7,284.0 293.9,279.6 294.1,274.5 294.3,269.3 294.5,264.5 294.8,259.0 295.0,253.0 295.3,246.9 295.6,240.8 295.9,235.1 296.4,230.0 296.8,226.9 297.2,223.9 297.6,221.2 298.0,218.6 298.5,216.1 299.1,213.6 299.6,211.6 300.2,209.7 300.7,207.9 301.4,206.2 302.0,204.4 302.7,202.7 303.4,200.9 304.2,198.8 305.0,196.7 305.8,195.0 306.6,193.7 307.3,193.3 307.8,193.7 308.3,194.7 308.8,196.2 309.2,197.8 309.6,199.5 310.0,200.9 310.3,202.3 310.6,203.9 310.9,205.4 311.1,206.8 311.4,207.8 311.8,208.2 312.1,208.0 312.5,207.3 312.9,206.4 313.2,205.5 313.6,204.8 314.0,204.5 314.5,204.8 315.0,205.7 315.5,206.9 316.0,208.3 316.5,209.7 316.9,210.9 317.3,212.2 317.6,213.7 317.9,215.3 318.2,216.6 318.6,217.7 319.1,218.2 319.5,218.1 320.0,217.8 320.4,217.3 320.9,216.8 321.4,216.5 321.8,216.4 322.3,216.8 322.7,217.7 323.1,218.8 323.5,220.1 323.8,221.5 324.2,222.7 324.7,224.3 325.1,226.2 325.6,228.1 326.1,229.9 326.6,231.2 327.2,231.8 327.6,231.7 327.9,231.5 328.3,231.0 328.7,230.6 329.1,230.2 329.5,230.0 329.9,230.0 330.3,230.3 330.7,230.5 331.2,230.8 331.5,230.9 331.9,230.9 332.4,230.4 332.8,229.6 333.2,228.5 333.5,227.2 333.8,225.8 334.1,224.5 334.4,222.6 334.7,220.6 334.9,218.4 335.1,216.2 335.3,213.9 335.5,211.8 335.8,209.5 336.0,207.0 336.3,204.4 336.6,202.2 336.9,200.6 337.2,200.0 337.4,200.3 337.7,201.0 337.9,202.1 338.2,203.4 338.4,204.9 338.6,206.4 339.0,210.7 339.2,216.4 339.5,222.8 339.7,229.2 340.0,234.8 340.5,239.0 340.7,240.4 341.0,241.7 341.2,242.9 341.5,243.9 341.9,244.6 342.3,244.9 342.7,244.9 343.1,244.6 343.6,244.1 344.1,243.6 344.6,243.1 345.0,242.7 345.3,242.4 345.6,242.1 345.9,241.8 346.2,241.5 346.5,241.4 346.8,241.3 347.2,241.5 347.6,241.9 348.0,242.4 348.4,242.9 348.8,243.4 349.2,243.6 349.6,243.5 350.1,243.3 350.6,243.0 351.0,242.7 351.5,242.4 351.9,242.4 352.3,242.6 352.7,243.1 353.0,243.7 353.3,244.2 353.7,244.7 354.1,244.9 354.5,244.9 355.0,244.9 355.5,244.7 356.0,244.5 356.4,244.1 356.8,243.6 357.8,240.2 358.2,234.6 358.3,227.6 358.2,220.0 358.1,212.6 358.3,206.4 358.6,201.9 358.9,196.9 359.2,192.2 359.5,188.1 359.8,185.3 360.1,184.2 360.3,184.8 360.6,186.3 360.8,188.6 361.0,191.4 361.2,194.4 361.4,197.3 361.7,203.3 361.8,210.4 362.0,218.3 362.1,226.5 362.2,234.8 362.3,242.7 362.5,251.3 362.7,261.2 362.9,271.1 363.1,279.8 363.3,285.9 363.5,288.2 363.7,285.9 363.9,280.0 364.1,271.7 364.4,262.4 364.6,253.6 365.0,246.4 365.3,242.3 365.6,238.4 365.9,234.7 366.3,231.1 366.7,227.8 367.2,224.5 367.7,222.0 368.2,219.5 368.7,217.2 369.3,215.0 369.9,212.9 370.5,210.9 371.0,209.5 371.5,208.3 372.0,207.1 372.6,205.9 373.1,204.8 373.7,203.6 374.3,202.3 374.9,200.8 375.6,199.4 376.2,198.1 376.8,197.2 377.4,196.9 378.0,197.4 378.5,198.6 379.0,200.2 379.5,202.1 380.0,203.9 380.5,205.5 380.9,206.9 381.3,208.3 381.7,209.8 382.2,211.1 382.6,212.1 383.2,212.7 383.5,212.8 383.9,212.6 384.3,212.4 384.7,212.3 385.1,212.1 385.4,212.2 385.9,212.8 386.3,213.7 386.6,215.0 387.0,216.4 387.3,217.8 387.7,219.0 388.1,220.2 388.5,221.5 388.9,222.8 389.4,223.9 389.9,224.9 390.5,225.5 390.9,225.6 391.4,225.6 391.9,225.5 392.3,225.4 392.8,225.3 393.2,225.5 393.8,226.3 394.3,227.6 394.6,229.2 395.0,230.9 395.4,232.4 395.9,233.6 396.3,234.3 396.7,234.9 397.1,235.5 397.5,236.0 397.9,236.3 398.3,236.4 398.6,236.2 398.8,235.6 399.0,234.9 399.3,234.2 399.5,233.6 399.9,233.3 400.4,233.3 400.9,233.5 401.5,233.9 402.1,234.2 402.7,234.5 403.2,234.5 403.6,234.3 403.9,234.0 404.2,233.6 404.5,233.1 404.8,232.5 405.0,231.8 405.5,229.3 405.9,225.7 406.1,221.6 406.3,217.3 406.5,213.3 406.8,210.0 407.0,208.2 407.3,206.4 407.5,204.6 407.8,203.2 408.0,202.2 408.3,201.8 408.6,202.2 408.9,203.1 409.2,204.5 409.5,206.2 409.8,208.1 410.1,210.0 410.5,214.6 410.6,220.7 410.7,227.3 411.0,233.7 411.5,238.8 412.6,241.8 413.1,242.2 413.6,242.4 414.2,242.5 414.8,242.5 415.3,242.5 415.9,242.7 416.5,243.0 417.1,243.5 417.7,244.0 418.3,244.5 418.9,244.8 419.5,244.9 420.0,244.7 420.6,244.3 421.1,243.8 421.6,243.2 422.1,242.7 422.7,242.4 423.4,242.4 424.1,242.5 424.9,242.7 425.6,242.9 426.3,243.0 426.9,242.7 427.7,241.2 428.2,238.8 428.4,235.7 428.5,232.1 428.5,228.3 428.7,224.5 429.1,217.3 429.5,208.0 429.8,198.2 430.2,189.4 430.5,183.0 430.9,180.5 431.1,181.0 431.3,182.3 431.6,184.2 431.8,186.6 432.0,189.2 432.2,191.8 432.5,197.8 432.7,205.2 432.8,213.5 432.8,222.3 432.9,230.9 433.1,239.0 433.3,247.1 433.5,256.3 433.7,265.3 434.0,273.2 434.2,278.8 434.5,280.9 434.7,279.7 435.0,276.6 435.2,272.2 435.5,267.1 435.7,261.9 436.0,257.3 436.3,252.5 436.5,247.5 436.8,242.3 437.0,237.3 437.4,232.5 437.8,228.2 438.2,225.4 438.5,222.9 439.0,220.4 439.4,218.1 439.9,215.8 440.4,213.6 440.9,211.6 441.4,209.6 441.9,207.7 442.4,205.9 443.0,204.2 443.6,202.7 444.0,201.8 444.5,201.0 445.0,200.3 445.5,199.7 446.0,199.0 446.4,198.2 446.8,197.2 447.2,196.0 447.6,194.8 448.0,193.7 448.3,193.0 448.7,192.7 449.1,193.1 449.6,194.2 450.0,195.8 450.5,197.6 450.9,199.3 451.3,200.9 451.7,202.4 452.0,204.1 452.3,205.8 452.7,207.3 453.1,208.4 453.6,209.0 454.0,208.9 454.4,208.6 454.8,208.2 455.2,207.7 455.6,207.4 456.0,207.3 456.5,207.7 456.9,208.6 457.3,209.8 457.7,211.1 458.1,212.5 458.5,213.6 458.9,214.6 459.2,215.7 459.6,216.8 460.0,217.8 460.4,218.6 460.9,219.0 461.3,219.0 461.8,218.9 462.2,218.6 462.7,218.3 463.2,218.2 463.6,218.2 464.2,218.7 464.7,219.6 465.1,220.8 465.6,222.1 466.0,223.4 466.4,224.5 466.8,225.5 467.1,226.7 467.5,227.8 467.8,228.9 468.2,229.6 468.7,230.0 469.2,230.0 469.6,229.6 470.2,229.2 470.7,228.6 471.3,228.1 471.8,227.8 472.3,227.7 472.7,227.7 473.2,227.7 473.7,227.7 474.1,227.6 474.5,227.3 475.1,226.2 475.5,224.5 475.8,222.5 476.0,220.2 476.2,217.8 476.4,215.5 476.8,212.3 477.1,208.5 477.4,204.6 477.8,201.1 478.1,198.6 478.5,197.6 478.7,197.9 479.0,198.7 479.3,199.8 479.5,201.3 479.8,202.9 480.0,204.5 480.4,209.5 480.5,216.5 480.6,224.4 480.8,231.8 481.5,237.7 482.7,240.9 483.2,241.2 483.8,241.2 484.5,241.1 485.1,240.9 485.8,240.8 486.4,240.9 487.1,241.4 487.8,242.1 488.5,242.9 489.2,243.7 489.9,244.3 490.5,244.5 491.0,244.3 491.5,243.8 492.0,243.1 492.5,242.4 493.0,241.7 493.6,241.3 494.2,241.2 494.8,241.2 495.5,241.3 496.2,241.3 496.8,241.2 497.3,240.9 498.3,238.8 498.8,235.3 498.9,230.8 498.9,225.7 499.0,220.5 499.1,215.5 499.4,208.2 499.7,199.2 500.0,190.0 500.3,181.8 500.6,175.9 500.9,173.6 501.1,174.2 501.3,176.0 501.6,178.5 501.8,181.6 502.0,184.9 502.2,188.2 502.5,195.3 502.7,204.0 502.9,213.6 503.0,223.7 503.1,233.5 503.3,242.7 503.5,251.4 503.7,261.2 503.9,270.9 504.1,279.2 504.3,285.1 504.5,287.3 504.7,285.8 504.9,281.8 505.1,276.1 505.3,269.6 505.5,263.0 505.8,257.3 506.1,252.0 506.5,246.6 506.8,241.2 507.2,235.9 507.7,230.9 508.2,226.4 508.6,223.6 509.0,221.0 509.4,218.5 509.8,216.2 510.3,214.0 510.9,211.8 511.4,210.2 512.0,208.6 512.6,207.2 513.3,205.7 513.9,204.3 514.5,202.7 515.1,200.6 515.8,198.0 516.4,195.4 517.0,193.1 517.6,191.5 518.2,190.9 518.8,191.6 519.4,193.3 520.1,195.7 520.7,198.3 521.3,200.7 521.9,202.6 522.3,203.5 522.6,204.5 522.9,205.3 523.3,206.1 523.6,206.6 524.0,206.8 524.3,206.7 524.7,206.3 525.0,205.7 525.4,205.2 525.8,204.8 526.1,204.7 526.7,205.3 527.2,206.7 527.8,208.6 528.3,210.7 528.8,212.6 529.3,214.2 529.6,215.1 530.0,216.0 530.3,216.8 530.6,217.6 531.0,218.1 531.4,218.4 531.7,218.4 532.1,218.2 532.4,217.9 532.8,217.6 533.2,217.4 533.5,217.4 534.1,218.1 534.7,219.6 535.2,221.5 535.7,223.5 536.2,225.4 536.7,226.9 537.0,227.7 537.4,228.6 537.7,229.4 538.1,230.0 538.4,230.5 538.8,230.7 539.2,230.5 539.8,229.8 540.3,229.0 540.8,228.2 541.2,227.6 541.3,227.3" fill="none" stroke="#f02828" stroke-width="1.2" stroke-linejoin="round"/>
<!-- panel C -->
<rect x="11.9" y="361.9" width="21.1" height="21.6" fill="#fff" stroke="#000" stroke-width="1.4"/>
<text transform="translate(23.2,380.9) scale(0.93,1)" text-anchor="middle" font-size="20" font-weight="bold" font-family="Liberation Serif, Times New Roman, serif">C</text>
<g font-family="Liberation Serif, Times New Roman, serif" font-weight="bold" font-size="18.5" text-anchor="end">
<text x="79" y="390.8">200</text>
<text x="79" y="452">150</text>
<text x="79" y="513.5">100</text>
<text x="79" y="575">50</text>
<text x="79" y="636.5">0</text>
</g>
<g stroke="#000" stroke-width="2">
<line x1="89.5" y1="383" x2="89.5" y2="631.5"/>
<line x1="82" y1="384" x2="89.5" y2="384"/>
<line x1="82" y1="445.5" x2="89.5" y2="445.5"/>
<line x1="82" y1="507" x2="89.5" y2="507"/>
<line x1="82" y1="568.5" x2="89.5" y2="568.5"/>
<line x1="82" y1="630.5" x2="89.5" y2="630.5"/>
<line x1="88.5" y1="630.5" x2="461.5" y2="630.5"/>
</g>
<text transform="translate(39,504) rotate(-90)" text-anchor="middle" font-size="19" font-weight="bold" font-family="Liberation Serif, Times New Roman, serif">Amplitude (µv)</text>
<line x1="99.8" y1="535.2" x2="106.0" y2="535.2" stroke="#000" stroke-width="1.6"/>
<rect x="98.0" y="536.5" width="9.8" height="94.0" fill="#e600ea" stroke="#000" stroke-width="1.5"/>
<line x1="119.2" y1="547.9" x2="119.2" y2="550.1" stroke="#000" stroke-width="1.6"/>
<line x1="116.1" y1="547.9" x2="122.3" y2="547.9" stroke="#000" stroke-width="1.6"/>
<rect x="114.3" y="550.9" width="9.7" height="79.6" fill="#e600ea" stroke="#000" stroke-width="1.5"/>
<line x1="135.4" y1="556.3" x2="135.4" y2="557.7" stroke="#000" stroke-width="1.6"/>
<line x1="132.3" y1="556.3" x2="138.5" y2="556.3" stroke="#000" stroke-width="1.6"/>
<rect x="130.7" y="558.5" width="9.6" height="72.0" fill="#e600ea" stroke="#000" stroke-width="1.5"/>
<line x1="152.0" y1="539.0" x2="152.0" y2="543.1" stroke="#000" stroke-width="1.6"/>
<line x1="148.9" y1="539.0" x2="155.1" y2="539.0" stroke="#000" stroke-width="1.6"/>
<rect x="147.2" y="543.9" width="9.5" height="86.6" fill="#e600ea" stroke="#000" stroke-width="1.5"/>
<line x1="179.9" y1="504.5" x2="179.9" y2="505.8" stroke="#000" stroke-width="1.6"/>
<line x1="176.8" y1="504.5" x2="183.0" y2="504.5" stroke="#000" stroke-width="1.6"/>
<rect x="175.1" y="506.6" width="9.6" height="123.9" fill="#00ff00" stroke="#000" stroke-width="1.5"/>
<line x1="196.2" y1="422.8" x2="196.2" y2="425.0" stroke="#000" stroke-width="1.6"/>
<line x1="193.1" y1="422.8" x2="199.2" y2="422.8" stroke="#000" stroke-width="1.6"/>
<rect x="191.2" y="425.8" width="9.8" height="204.8" fill="#00ff00" stroke="#000" stroke-width="1.5"/>
<line x1="212.4" y1="481.0" x2="212.4" y2="484.9" stroke="#000" stroke-width="1.6"/>
<line x1="209.3" y1="481.0" x2="215.5" y2="481.0" stroke="#000" stroke-width="1.6"/>
<rect x="207.8" y="485.6" width="9.4" height="144.9" fill="#00ff00" stroke="#000" stroke-width="1.5"/>
<line x1="228.9" y1="467.0" x2="228.9" y2="471.5" stroke="#000" stroke-width="1.6"/>
<line x1="225.8" y1="467.0" x2="232.0" y2="467.0" stroke="#000" stroke-width="1.6"/>
<rect x="224.1" y="472.2" width="9.6" height="158.2" fill="#00ff00" stroke="#000" stroke-width="1.5"/>
<line x1="256.8" y1="536.6" x2="256.8" y2="537.6" stroke="#000" stroke-width="1.6"/>
<line x1="253.7" y1="536.6" x2="259.9" y2="536.6" stroke="#000" stroke-width="1.6"/>
<rect x="252.1" y="538.4" width="9.4" height="92.1" fill="#ff0090" stroke="#000" stroke-width="1.5"/>
<line x1="272.8" y1="513.3" x2="272.8" y2="525.0" stroke="#000" stroke-width="1.6"/>
<line x1="269.6" y1="513.3" x2="275.9" y2="513.3" stroke="#000" stroke-width="1.6"/>
<rect x="268.1" y="525.8" width="9.4" height="104.8" fill="#ff0090" stroke="#000" stroke-width="1.5"/>
<line x1="289.2" y1="454.6" x2="289.2" y2="456.7" stroke="#000" stroke-width="1.6"/>
<line x1="286.1" y1="454.6" x2="292.4" y2="454.6" stroke="#000" stroke-width="1.6"/>
<rect x="284.4" y="457.4" width="9.8" height="173.1" fill="#ff0090" stroke="#000" stroke-width="1.5"/>
<line x1="317.2" y1="550.0" x2="317.2" y2="550.9" stroke="#000" stroke-width="1.6"/>
<line x1="314.1" y1="550.0" x2="320.3" y2="550.0" stroke="#000" stroke-width="1.6"/>
<rect x="312.6" y="551.6" width="9.1" height="78.9" fill="#0000ff" stroke="#000" stroke-width="1.5"/>
<line x1="333.5" y1="490.7" x2="333.5" y2="499.1" stroke="#000" stroke-width="1.6"/>
<line x1="330.4" y1="490.7" x2="336.6" y2="490.7" stroke="#000" stroke-width="1.6"/>
<rect x="328.9" y="499.9" width="9.3" height="130.6" fill="#0000ff" stroke="#000" stroke-width="1.5"/>
<line x1="349.6" y1="491.3" x2="349.6" y2="493.8" stroke="#000" stroke-width="1.6"/>
<line x1="346.5" y1="491.3" x2="352.7" y2="491.3" stroke="#000" stroke-width="1.6"/>
<rect x="344.9" y="494.6" width="9.3" height="135.9" fill="#0000ff" stroke="#000" stroke-width="1.5"/>
<line x1="365.9" y1="492.2" x2="365.9" y2="494.4" stroke="#000" stroke-width="1.6"/>
<line x1="362.8" y1="492.2" x2="369.0" y2="492.2" stroke="#000" stroke-width="1.6"/>
<rect x="361.1" y="495.1" width="9.7" height="135.4" fill="#0000ff" stroke="#000" stroke-width="1.5"/>
<line x1="390.7" y1="546.3" x2="396.9" y2="546.3" stroke="#000" stroke-width="1.6"/>
<rect x="389.1" y="547.8" width="9.5" height="82.8" fill="#ff0000" stroke="#000" stroke-width="1.5"/>
<line x1="410.1" y1="536.6" x2="410.1" y2="539.2" stroke="#000" stroke-width="1.6"/>
<line x1="407.0" y1="536.6" x2="413.2" y2="536.6" stroke="#000" stroke-width="1.6"/>
<rect x="405.4" y="540.0" width="9.5" height="90.5" fill="#ff0000" stroke="#000" stroke-width="1.5"/>
<line x1="426.4" y1="520.3" x2="426.4" y2="523.1" stroke="#000" stroke-width="1.6"/>
<line x1="423.2" y1="520.3" x2="429.5" y2="520.3" stroke="#000" stroke-width="1.6"/>
<rect x="421.4" y="523.9" width="9.8" height="106.6" fill="#ff0000" stroke="#000" stroke-width="1.5"/>
<line x1="442.5" y1="490.7" x2="442.5" y2="495.8" stroke="#000" stroke-width="1.6"/>
<line x1="439.4" y1="490.7" x2="445.6" y2="490.7" stroke="#000" stroke-width="1.6"/>
<rect x="437.8" y="496.6" width="9.5" height="133.9" fill="#ff0000" stroke="#000" stroke-width="1.5"/>
<g stroke="#000" stroke-width="2"><line x1="102.9" y1="630.5" x2="102.9" y2="636.5"/><line x1="119.2" y1="630.5" x2="119.2" y2="636.5"/><line x1="135.4" y1="630.5" x2="135.4" y2="636.5"/><line x1="152.0" y1="630.5" x2="152.0" y2="636.5"/><line x1="179.9" y1="630.5" x2="179.9" y2="636.5"/><line x1="196.2" y1="630.5" x2="196.2" y2="636.5"/><line x1="212.4" y1="630.5" x2="212.4" y2="636.5"/><line x1="228.9" y1="630.5" x2="228.9" y2="636.5"/><line x1="256.8" y1="630.5" x2="256.8" y2="636.5"/><line x1="272.8" y1="630.5" x2="272.8" y2="636.5"/><line x1="289.2" y1="630.5" x2="289.2" y2="636.5"/><line x1="317.2" y1="630.5" x2="317.2" y2="636.5"/><line x1="333.5" y1="630.5" x2="333.5" y2="636.5"/><line x1="349.6" y1="630.5" x2="349.6" y2="636.5"/><line x1="365.9" y1="630.5" x2="365.9" y2="636.5"/><line x1="393.8" y1="630.5" x2="393.8" y2="636.5"/><line x1="410.1" y1="630.5" x2="410.1" y2="636.5"/><line x1="426.4" y1="630.5" x2="426.4" y2="636.5"/><line x1="442.5" y1="630.5" x2="442.5" y2="636.5"/></g>
<g font-family="Liberation Serif, Times New Roman, serif" font-weight="bold" font-size="11.8"><text transform="translate(105.9,638.8) rotate(-69.5)" text-anchor="end">Control</text>
<text transform="translate(122.2,638.8) rotate(-69.5)" text-anchor="end">3.22 µg/g</text>
<text transform="translate(138.4,638.8) rotate(-69.5)" text-anchor="end">6.43 µg/g</text>
<text transform="translate(155.0,638.8) rotate(-69.5)" text-anchor="end">12.86 µg/g</text>
<text transform="translate(182.9,638.8) rotate(-69.5)" text-anchor="end">Control</text>
<text transform="translate(199.2,638.8) rotate(-69.5)" text-anchor="end">3.22 µg/g</text>
<text transform="translate(215.4,638.8) rotate(-69.5)" text-anchor="end">6.43 µg/g</text>
<text transform="translate(231.9,638.8) rotate(-69.5)" text-anchor="end">12.86 µg/g</text>
<text transform="translate(259.8,638.8) rotate(-69.5)" text-anchor="end">Control</text>
<text transform="translate(275.8,638.8) rotate(-69.5)" text-anchor="end">3.22 µg/g</text>
<text transform="translate(292.2,638.8) rotate(-69.5)" text-anchor="end">6.43 µg/g</text>
<text transform="translate(320.2,638.8) rotate(-69.5)" text-anchor="end">Control</text>
<text transform="translate(336.5,638.8) rotate(-69.5)" text-anchor="end">3.22 µg/g</text>
<text transform="translate(352.6,638.8) rotate(-69.5)" text-anchor="end">6.43 µg/g</text>
<text transform="translate(368.9,638.8) rotate(-69.5)" text-anchor="end">12.86 µg/g</text>
<text transform="translate(396.8,638.8) rotate(-69.5)" text-anchor="end">Control</text>
<text transform="translate(413.1,638.8) rotate(-69.5)" text-anchor="end">3.22 µg/g</text>
<text transform="translate(429.4,638.8) rotate(-69.5)" text-anchor="end">6.43 µg/g</text>
<text transform="translate(445.5,638.8) rotate(-69.5)" text-anchor="end">12.86 µg/g</text></g>
<text x="277.6" y="700.4" text-anchor="middle" font-size="17.4" font-weight="bold" font-family="Liberation Serif, Times New Roman, serif">SVLa Dosage</text>
<!-- significance -->
<g stroke="#333" stroke-width="1.25">
<line x1="96.5" y1="394.3" x2="452" y2="394.3"/>
<line x1="96.5" y1="392.8" x2="96.5" y2="395.8"/><line x1="452" y1="392.8" x2="452" y2="395.8"/>
<line x1="101" y1="525.8" x2="163" y2="525.8"/>
<line x1="101" y1="524.3" x2="101" y2="527.3"/><line x1="163" y1="524.3" x2="163" y2="527.3"/>
<line x1="169.5" y1="410.8" x2="235.5" y2="410.8"/>
<line x1="169.5" y1="409.3" x2="169.5" y2="412.3"/><line x1="235.5" y1="409.3" x2="235.5" y2="412.3"/>
<line x1="250.5" y1="440.4" x2="296.4" y2="440.4"/>
<line x1="250.5" y1="438.9" x2="250.5" y2="441.9"/><line x1="296.4" y1="438.9" x2="296.4" y2="441.9"/>
<line x1="316.9" y1="482" x2="377.5" y2="482"/>
<line x1="316.9" y1="480.5" x2="316.9" y2="483.5"/><line x1="377.5" y1="480.5" x2="377.5" y2="483.5"/>
<line x1="391.7" y1="476.6" x2="452.3" y2="476.6"/>
<line x1="391.7" y1="475.1" x2="391.7" y2="478.1"/><line x1="452.3" y1="475.1" x2="452.3" y2="478.1"/>
</g>
<g font-family="Liberation Sans, Arial, sans-serif" font-size="17" font-weight="bold" letter-spacing="1" fill="#111" text-anchor="middle">
<text x="277.5" y="396.9">***</text>
<text x="131.5" y="530.3">**</text>
<text x="202.8" y="414.3">***</text>
<text x="272.3" y="444.1">***</text>
<text x="347.5" y="485.8">***</text>
<text x="416.7" y="479.8">**</text>
</g>
<!-- legend -->
<g stroke="#000" stroke-width="1.5">
<rect x="465.8" y="388" width="26" height="10.8" fill="#e600ea"/>
<rect x="465.8" y="409.2" width="26" height="10.8" fill="#00ff00"/>
<rect x="465.8" y="435.2" width="26" height="10.8" fill="#ff0090"/>
<rect x="465.8" y="459.6" width="26" height="10.8" fill="#0000ff"/>
<rect x="465.8" y="483.2" width="26" height="10.8" fill="#ff0000"/>
</g>
<g font-family="Liberation Serif, Times New Roman, serif" font-weight="bold" font-size="13.6">
<text x="499.4" y="397.1">10 min</text>
<text x="499.2" y="418.9" font-size="14">1 H</text>
<text x="501.5" y="446.7">2 h</text>
<text x="501.5" y="467.4">3 h</text>
<text x="501.3" y="493.1">4 h</text>
</g>
<text x="470.3" y="515.5" font-family="Liberation Serif, Times New Roman, serif" font-size="19" font-style="italic">p</text>
<text transform="translate(481.3,515) scale(1.3,1)" font-family="Liberation Serif, Times New Roman, serif" font-size="15">&lt;</text>
<text transform="translate(499.2,515.6) scale(0.97,1.18)" font-family="Liberation Serif, Times New Roman, serif" font-size="13.5" font-weight="bold">0,001</text>
</svg>
</body></html>
